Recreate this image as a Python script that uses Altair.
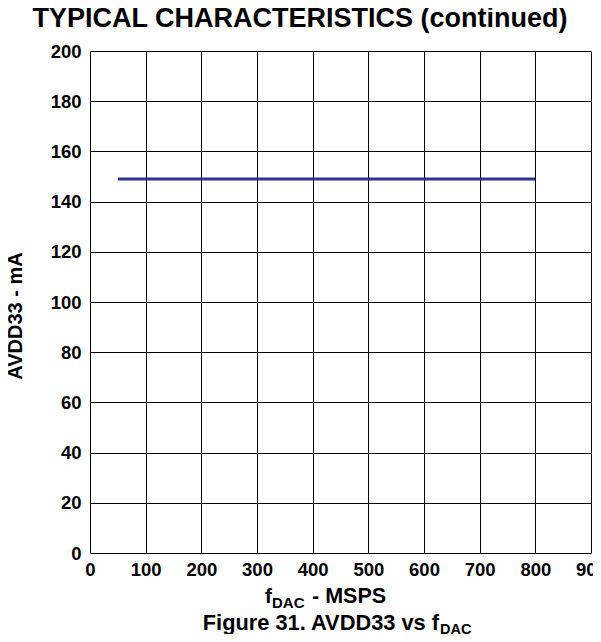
import altair as alt
import pandas as pd

# Data
f_dac = [50, 100, 200, 300, 400, 500, 600, 700, 800]
avdd33 = [149, 149, 149, 149, 149, 149, 149, 149, 149]
x_ticks = [0, 100, 200, 300, 400, 500, 600, 700, 800, 900]
y_ticks = [0, 20, 40, 60, 80, 100, 120, 140, 160, 180, 200]

df = pd.DataFrame({"f": f_dac, "i": avdd33})
FONT = "Liberation Sans"

base = alt.Chart(df)

common_axis = dict(grid=True, ticks=False, labelFontSize=18.5, labelFontWeight="bold",
                   labelFont=FONT, labelColor="black", gridColor="black",
                   gridOpacity=1, gridWidth=1, domain=False, title=None,
                   labelFlush=False, labelOverlap=False)

line = base.mark_line(color="#2e3192", strokeWidth=3).encode(
    x=alt.X("f:Q", scale=alt.Scale(domain=[0, 900], nice=False),
            axis=alt.Axis(values=x_ticks, labelPadding=7, labelBound=False, **common_axis)),
    y=alt.Y("i:Q", scale=alt.Scale(domain=[0, 200], nice=False),
            axis=alt.Axis(values=y_ticks, labelPadding=9, **common_axis)),
)

def txt(text, x, y, size, align="left", angle=0):
    return alt.Chart(pd.DataFrame({"t": [text]})).mark_text(
        font=FONT, fontSize=size, fontWeight="bold", color="black",
        align=align, baseline="alphabetic", angle=angle).encode(
        text="t:N", x=alt.value(x), y=alt.value(y))

title = txt("TYPICAL CHARACTERISTICS (continued)", 210, -24, 27, "center")
ytitle = txt("AVDD33 - mA", -68, 265, 20, "center", 270)
xt1 = txt("f", 175, 552, 20.5)
xt2 = txt("DAC", 182, 557, 15)
xt3 = txt("- MSPS", 222, 552, 21.5)
cap1 = txt("Figure 31. AVDD33 vs f", 349, 579, 21.8, "right")
cap2 = txt("DAC", 350, 583, 14.5)

chart = alt.layer(line, title, ytitle, xt1, xt2, xt3, cap1, cap2).properties(
    width=501, height=502,
    autosize=alt.AutoSizeParams(type="none"),
    padding={"left": 82, "top": 43, "right": 2, "bottom": 81},
).configure_view(stroke="black", strokeWidth=2.5).configure(background="white")

chart.save("out.html", embed_options={"renderer": "svg", "actions": False})
